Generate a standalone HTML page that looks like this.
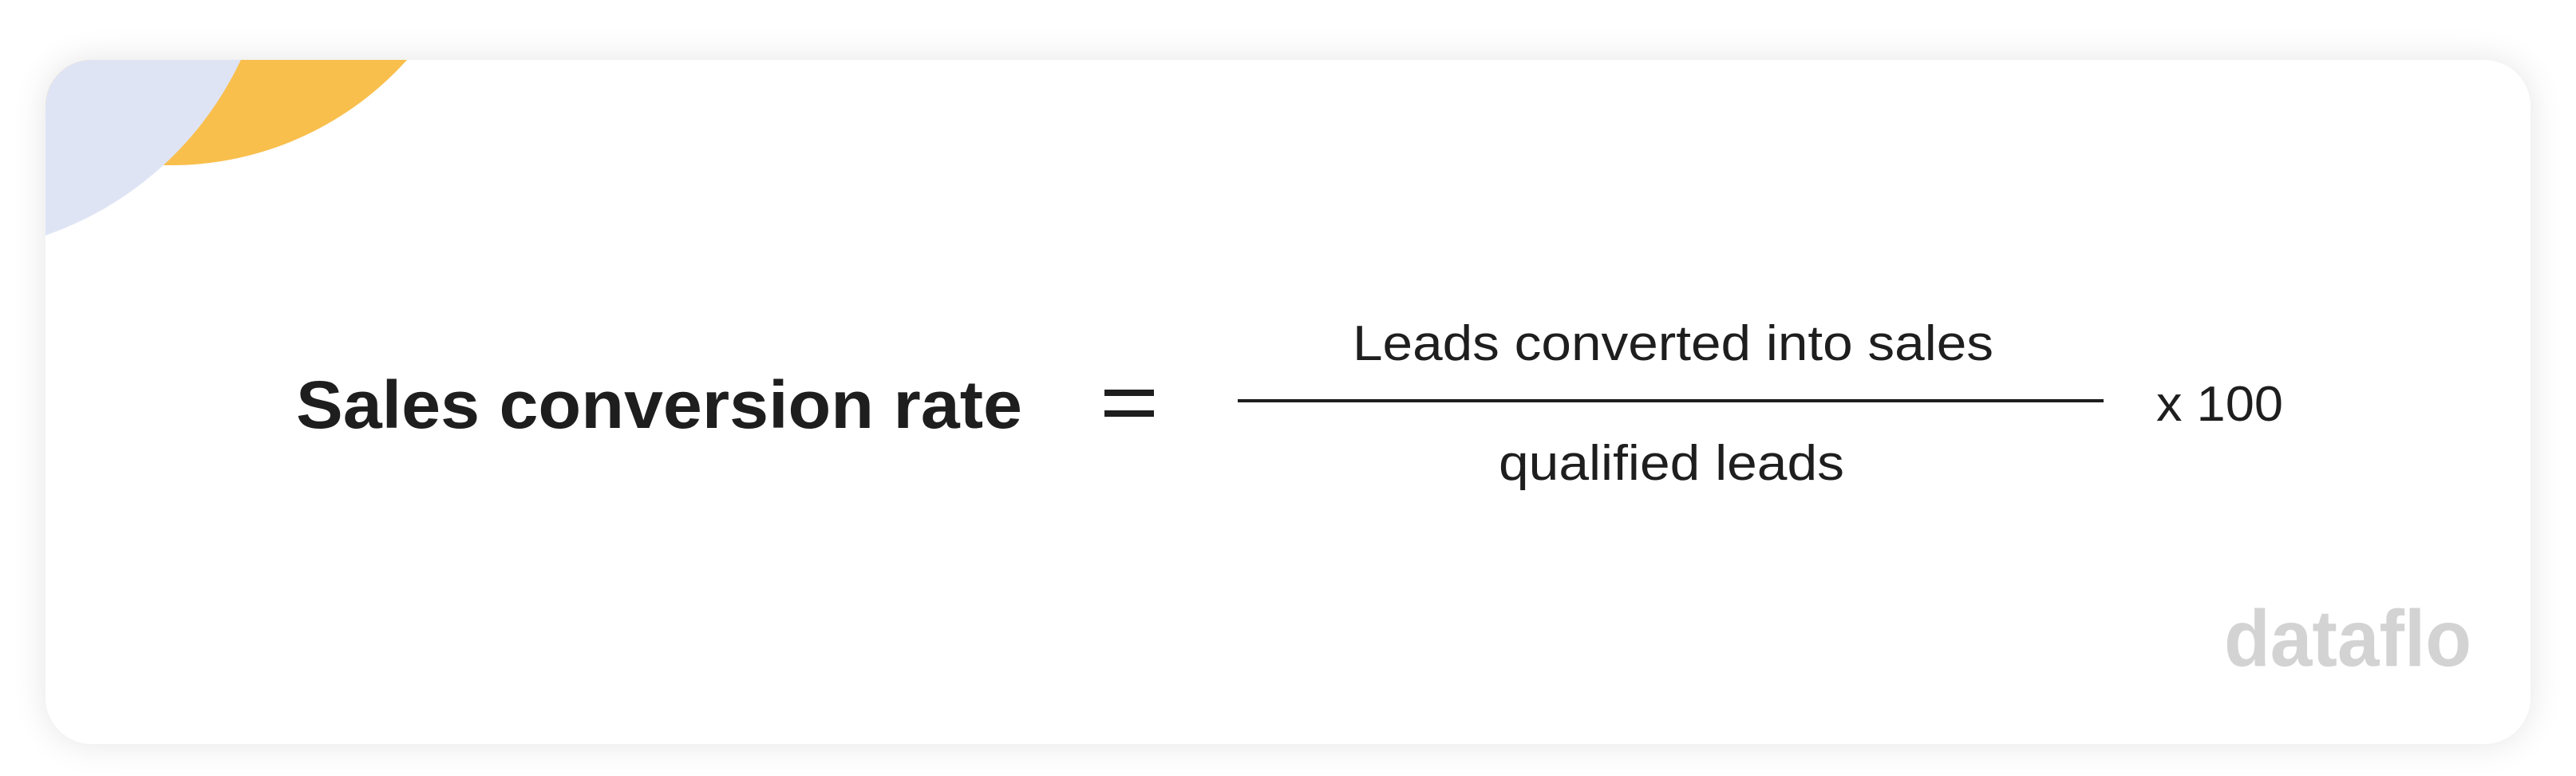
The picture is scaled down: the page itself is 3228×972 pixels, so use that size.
<!DOCTYPE html>
<html><head><meta charset="utf-8"><style>
html,body{margin:0;padding:0;background:#fff;}
svg{display:block;}
</style></head><body>
<svg width="3228" height="972" viewBox="0 0 3228 972" xmlns="http://www.w3.org/2000/svg">
<defs>
<filter id="sh" x="-10%" y="-20%" width="120%" height="140%">
<feGaussianBlur stdDeviation="22"/>
</filter>
<clipPath id="card"><rect x="57" y="75" width="3114" height="857" rx="58" ry="58"/></clipPath>
</defs>
<rect x="57" y="75" width="3114" height="857" rx="58" fill="#000" opacity="0.10" filter="url(#sh)"/>
<rect x="57" y="75" width="3114" height="857" rx="58" fill="#fff"/>
<g clip-path="url(#card)">
<circle cx="214" cy="-191" r="398" fill="#f9bf4c"/>
<circle cx="-81" cy="-105" r="423" fill="#dfe4f5"/>
</g>
<g font-family="Liberation Sans, sans-serif" fill="#1e1e1e">
<text x="371" y="536" font-size="84" font-weight="bold" textLength="910" lengthAdjust="spacingAndGlyphs">Sales conversion rate</text>
<rect x="1384" y="488" width="62" height="8" fill="#1e1e1e"/>
<rect x="1384" y="514" width="62" height="8" fill="#1e1e1e"/>
<rect x="1551" y="500" width="1085" height="4" fill="#1e1e1e"/>
<text x="1695" y="451" font-size="62" textLength="803" lengthAdjust="spacingAndGlyphs">Leads converted into sales</text>
<text x="1878" y="601" font-size="62" textLength="433" lengthAdjust="spacingAndGlyphs">qualified leads</text>
<text x="2702" y="527" font-size="62" textLength="159" lengthAdjust="spacingAndGlyphs">x 100</text>
</g>
<text x="2787" y="834" font-family="Liberation Sans, sans-serif" font-size="100" font-weight="bold" fill="#d3d3d3" textLength="310" lengthAdjust="spacingAndGlyphs">dataflo</text>
</svg>
</body></html>
